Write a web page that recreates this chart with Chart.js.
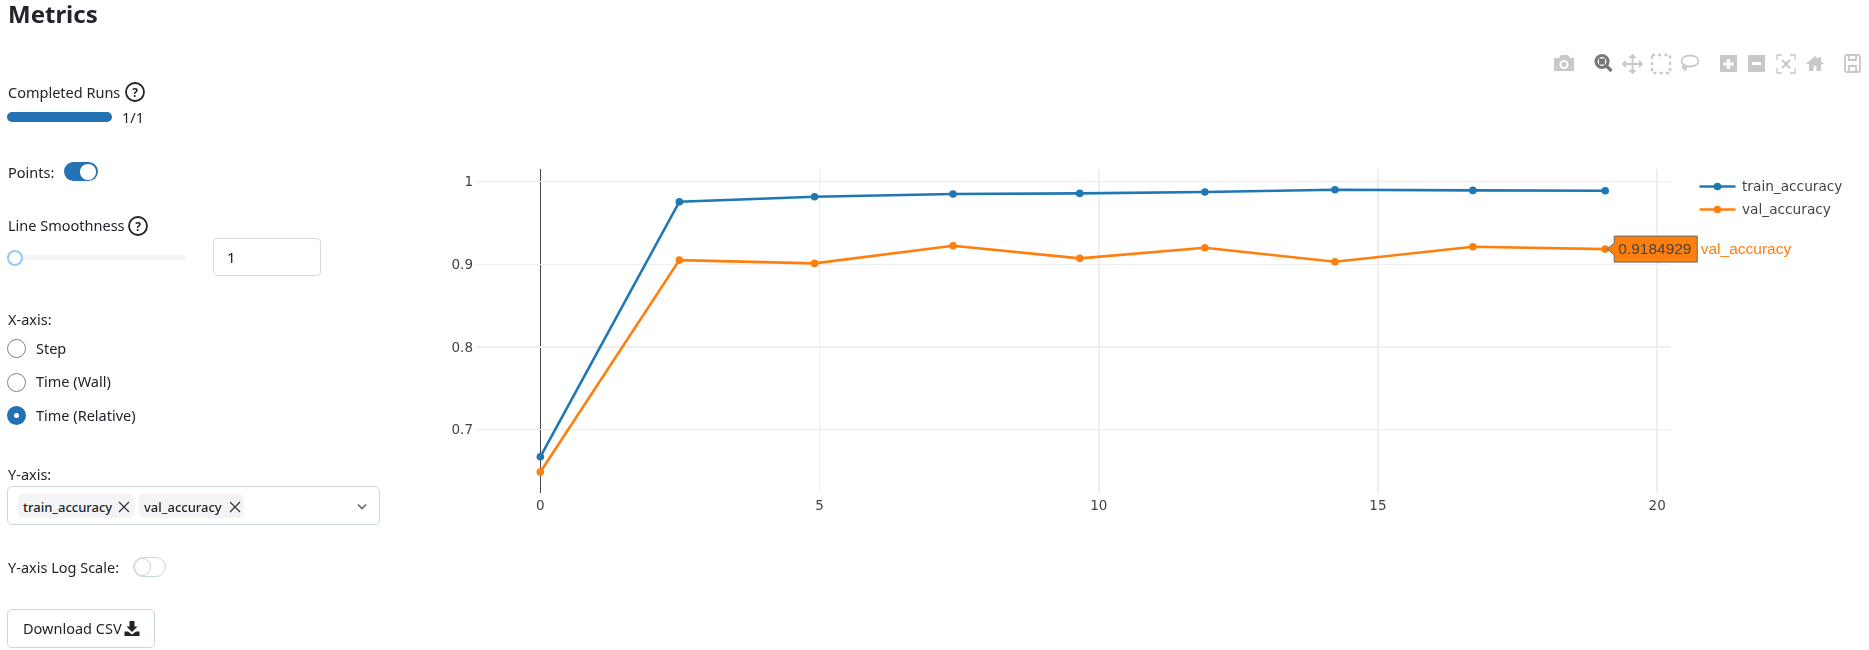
<!DOCTYPE html>
<html>
<head>
<meta charset="utf-8">
<title>Metrics</title>
<script src="https://cdn.jsdelivr.net/npm/chart.js@4"></script>
<style>
html, body { margin: 0; padding: 0; background: #fff; width: 1869px; height: 650px; overflow: hidden; }
body { font-family: "Noto Sans", sans-serif; font-size: 14.5px; color: #212529; position: relative; }
#metricsChart { position: absolute; left: 0; top: 0; }
.abs { position: absolute; white-space: nowrap; line-height: 1; }
.t { position: absolute; white-space: nowrap; line-height: 20px; height: 20px; }
.box { position: absolute; box-sizing: border-box; }
svg.abs { display: block; }
</style>
</head>
<body>
<canvas id="metricsChart" width="1869" height="650"></canvas>

<div class="t" style="left:8px;top:0;font-size:24px;font-weight:700;line-height:28px;height:28px">Metrics</div>

<div class="t" style="left:8px;top:82px">Completed Runs</div>
<svg class="abs" style="left:124px;top:81px" width="22" height="22"><circle cx="11" cy="11" r="9" fill="none" stroke="#222" stroke-width="1.8"/><text x="11" y="15.500" text-anchor="middle" font-size="12" font-weight="700" fill="#222" font-family="Noto Sans">?</text></svg>
<div class="box" style="left:7px;top:112px;width:105px;height:10px;background:#2272b4;border-radius:5px"></div>
<div class="t" style="left:122px;top:107px">1/1</div>

<div class="t" style="left:8px;top:162px">Points:</div>
<div class="box" style="left:64px;top:162px;width:34px;height:19px;background:#2272b4;border-radius:10px"></div>
<div class="box" style="left:80px;top:164px;width:15.5px;height:15.5px;background:#fff;border-radius:50%"></div>

<div class="t" style="left:8px;top:215px">Line Smoothness</div>
<svg class="abs" style="left:127px;top:215px" width="22" height="22"><circle cx="11" cy="11" r="9" fill="none" stroke="#222" stroke-width="1.8"/><text x="11" y="15.500" text-anchor="middle" font-size="12" font-weight="700" fill="#222" font-family="Noto Sans">?</text></svg>
<div class="box" style="left:7px;top:255px;width:179px;height:5px;background:#f5f5f5;border-radius:3px"></div>
<div class="box" style="left:6.500px;top:249.500px;width:16px;height:16px;background:#fff;border:2px solid #91caff;border-radius:50%"></div>
<div class="box" style="left:213px;top:238px;width:108px;height:38px;border:1px solid #d9d9d9;border-radius:4px"></div>
<div class="t" style="left:227px;top:247px;font-size:15px">1</div>

<div class="t" style="left:8px;top:309px">X-axis:</div>
<div class="box" style="left:7px;top:339px;width:19px;height:19px;border:1.3px solid #7d8288;border-radius:50%"></div>
<div class="t" style="left:36px;top:338px">Step</div>
<div class="box" style="left:7px;top:373px;width:19px;height:19px;border:1.3px solid #7d8288;border-radius:50%"></div>
<div class="t" style="left:36px;top:371px">Time (Wall)</div>
<div class="box" style="left:7px;top:406px;width:19px;height:19px;background:#2272b4;border-radius:50%"></div>
<div class="box" style="left:14px;top:413px;width:5px;height:5px;background:#fff;border-radius:50%"></div>
<div class="t" style="left:36px;top:405px">Time (Relative)</div>

<div class="t" style="left:8px;top:464px">Y-axis:</div>
<div class="box" style="left:7px;top:486px;width:373px;height:39px;border:1px solid #c8d6e5;border-radius:5px"></div>
<div class="box" style="left:18px;top:494px;width:116px;height:24px;background:#f3f4f6;border-radius:5px"></div>
<div class="t" style="left:23px;top:497px;font-size:13px;font-weight:500">train_accuracy</div>
<svg class="abs" style="left:118px;top:501px" width="12" height="12"><path d="M1 1L11 11M11 1L1 11" stroke="#333" stroke-width="1.2"/></svg>
<div class="box" style="left:139px;top:494px;width:105px;height:24px;background:#f3f4f6;border-radius:5px"></div>
<div class="t" style="left:144px;top:497px;font-size:13px;font-weight:500">val_accuracy</div>
<svg class="abs" style="left:229px;top:501px" width="12" height="12"><path d="M1 1L11 11M11 1L1 11" stroke="#333" stroke-width="1.2"/></svg>
<svg class="abs" style="left:356px;top:503px" width="12" height="8"><path d="M2 1.500L6 5.500L10 1.500" fill="none" stroke="#5f6b7a" stroke-width="1.700"/></svg>

<div class="t" style="left:8px;top:557px">Y-axis Log Scale:</div>
<div class="box" style="left:133px;top:557px;width:33px;height:20px;border:1px solid #c8d6e5;border-radius:10px"></div>
<div class="box" style="left:134px;top:558px;width:17px;height:18px;border:1px solid #c8d6e5;background:#fff;border-radius:50%"></div>

<div class="box" style="left:7px;top:609px;width:148px;height:38.5px;border:1px solid #c8d6e5;border-radius:5px"></div>
<div class="t" style="left:23px;top:618px">Download CSV</div>
<svg class="abs" style="left:124px;top:620px" width="16" height="17" viewBox="0 0 16 17"><path d="M5.500 1h5v5.500h3L8 12 2.500 6.500h3z M0.500 11.500h3.500L8 14.500l4-3h3.500V16H0.500z" fill="#212529"/></svg>

<!-- plot toolbar -->
<svg class="abs" style="left:1550px;top:50px" width="320" height="26" viewBox="0 0 320 26">
  <g fill="#c8c8c8">
    <path d="M4 8h5l2-3h7l2 3h4v13H4z M14 10a4.500 4.500 0 1 0 .01 0z" fill-rule="evenodd"/>
    <circle cx="14" cy="14.500" r="2.500"/>
    <path d="M170 5h17v17h-17z M177 9v3.500h-3.500v3H177V19h3v-3.500h3.500v-3H180V9z" fill-rule="evenodd"/>
    <path d="M198 5h17v17h-17z M202 12v3h9v-3z" fill-rule="evenodd"/>
    <path d="M265 6l-9 8h3v7h4.500v-5h3v5H271v-7h3l-3-2.700V7h-2.500v2.200z"/>
  </g>
  <g fill="none" stroke="#777" stroke-width="3.200"><circle cx="52" cy="11.500" r="6"/><path d="M56.500 16l5 5"/></g>
  <rect x="49" y="8.500" width="6" height="6" fill="#777"/>
  <g fill="none" stroke="#c8c8c8" stroke-width="1.800">
    <path d="M73 14h19M82.500 5v18M79.500 8l3-3 3 3M79.500 20l3 3 3-3M76 11l-3 3 3 3M89 11l3 3-3 3"/>
    <rect x="102" y="5" width="18" height="18" stroke-width="2.400" stroke-dasharray="3 3.200"/>
    <ellipse cx="140" cy="11" rx="8.500" ry="5.500"/><path d="M134 15c-3 3 1 5 2 3 1-2-2-2-1 3"/>
    <path d="M227 10V5h5M240 5h5v5M245 18v5h-5M232 23h-5v-5" stroke-width="1.400"/>
    <path d="M232 10l8 8M240 10l-8 8" stroke-width="2"/>
    <rect x="295" y="5" width="15" height="17" rx="2"/><path d="M299 5v5h7V5M299 22v-6h7v6"/>
  </g>
</svg>

<script>
// values
const timeRelative = [0, 2.49, 4.91, 7.39, 9.66, 11.9, 14.23, 16.7, 19.07];
const trainAccuracy = [0.6673, 0.9758, 0.9819, 0.9851, 0.9859, 0.9875, 0.9903, 0.9895, 0.9891];
const valAccuracy = [0.6488, 0.9052, 0.9012, 0.9225, 0.9073, 0.9202, 0.9032, 0.9214, 0.9184929];
const seriesNames = ['train_accuracy', 'val_accuracy'];
const seriesColors = ['#1f77b4', '#ff7f0e'];
const xTickValues = [0, 5, 10, 15, 20];
const yTickValues = [0.7, 0.8, 0.9, 1];
const hoverIndex = 8;

function toPoints(ys) {
    return ys.map((y, i) => ({ x: timeRelative[i], y: y }));
}

// legend on the right, same look as the traces
const sideLegend = {
    id: 'sideLegend',
    afterDraw(chart) {
        const c = chart.ctx;
        c.save();
        c.font = '13.7px "DejaVu Sans"';
        c.textBaseline = 'middle';
        chart.data.datasets.forEach((ds, i) => {
            const y = 186.5 + i * 23;
            c.strokeStyle = ds.borderColor;
            c.lineWidth = 2.5;
            c.beginPath();
            c.moveTo(1699.5, y);
            c.lineTo(1735.5, y);
            c.stroke();
            c.fillStyle = ds.borderColor;
            c.beginPath();
            c.arc(1717.5, y, 3.8, 0, Math.PI * 2);
            c.fill();
            c.fillStyle = '#444';
            c.fillText(ds.label, 1742, y + 0.5);
        });
        c.restore();
    }
};

// hover label on the last val_accuracy point
const hoverLabel = {
    id: 'hoverLabel',
    afterDraw(chart) {
        const c = chart.ctx;
        const px = chart.scales.x.getPixelForValue(timeRelative[hoverIndex]);
        const py = chart.scales.y.getPixelForValue(valAccuracy[hoverIndex]);
        const tip = px + 2, l = tip + 7, r = l + 83, t = py - 13, b = py + 13;
        c.save();
        c.beginPath();
        c.moveTo(tip, py);
        c.lineTo(l, py - 6);
        c.lineTo(l, t);
        c.lineTo(r, t);
        c.lineTo(r, b);
        c.lineTo(l, b);
        c.lineTo(l, py + 6);
        c.closePath();
        c.fillStyle = seriesColors[1];
        c.fill();
        c.strokeStyle = '#666';
        c.lineWidth = 1;
        c.stroke();
        c.font = '15.5px "Liberation Sans"';
        c.textBaseline = 'middle';
        c.fillStyle = '#444';
        c.fillText(String(valAccuracy[hoverIndex]), l + 4, py + 0.5);
        c.fillStyle = seriesColors[1];
        c.fillText(seriesNames[1], r + 3.5, py + 0.5);
        c.restore();
    }
};

const ctx = document.getElementById('metricsChart').getContext('2d');

const metricsChart = new Chart(ctx, {
    type: 'line',
    data: {
        datasets: [
            { label: seriesNames[0], data: toPoints(trainAccuracy), borderColor: seriesColors[0], backgroundColor: seriesColors[0] },
            { label: seriesNames[1], data: toPoints(valAccuracy), borderColor: seriesColors[1], backgroundColor: seriesColors[1] }
        ]
    },
    options: {
        responsive: false,
        animation: false,
        devicePixelRatio: 1,
        layout: { padding: { left: 0, top: 169, right: 199, bottom: 0 } },
        elements: {
            line: { borderWidth: 2.6, tension: 0 },
            point: { radius: 3.8, borderWidth: 0 }
        },
        plugins: {
            legend: { display: false },
            tooltip: { enabled: false }
        },
        scales: {
            x: {
                type: 'linear',
                min: -1.152,
                max: 20.23,
                afterFit: s => { s.height = 157; },
                afterBuildTicks: s => { s.ticks = xTickValues.map(v => ({ value: v })); },
                border: { display: false },
                grid: {
                    tickLength: 0,
                    color: c => c.tick.value === 0 ? '#444' : '#eee',
                    lineWidth: c => c.tick.value === 10 || c.tick.value === 15 || c.tick.value === 20 ? 2 : 1
                },
                ticks: {
                    autoSkip: false, maxRotation: 0, padding: 5, color: '#444',
                    font: { family: 'DejaVu Sans', size: 13.5 },
                    callback: v => String(v)
                }
            },
            y: {
                min: 0.6235,
                max: 1.0154,
                afterFit: s => { s.width = 476; },
                afterBuildTicks: s => { s.ticks = yTickValues.map(v => ({ value: v })); },
                border: { display: false },
                grid: {
                    z: -1,
                    tickLength: 0,
                    color: '#eee',
                    lineWidth: c => c.tick.value === 0.8 ? 2 : 1
                },
                ticks: {
                    autoSkip: false, padding: 3, color: '#444', labelOffset: 1,
                    font: { family: 'DejaVu Sans', size: 13.5 },
                    callback: v => String(v)
                }
            }
        }
    },
    plugins: [sideLegend, hoverLabel]
});
</script>
</body>
</html>
